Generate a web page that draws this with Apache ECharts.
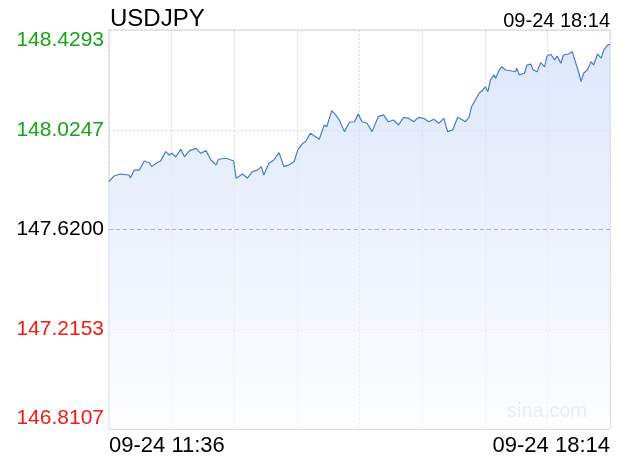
<!DOCTYPE html>
<html>
<head>
<meta charset="utf-8">
<script src="https://cdn.jsdelivr.net/npm/echarts@6/dist/echarts.min.js"></script>
<style>html,body{margin:0;padding:0;background:#fff}#c{width:620px;height:460px}</style>
</head>
<body>
<div id="c"></div>
<script>
var symbol = 'USDJPY';
var dateStr = '09-24';
var startTime = '11:36';
var endTime = '18:14';
var prevClose = 147.62;
var yTickLabels = ['146.8107', '147.2153', '147.6200', '148.0247', '148.4293'];

var times = ['11:36','11:40','11:45','11:52','11:53','11:56','12:00','12:04','12:08','12:10','12:14','12:17','12:21','12:24','12:26','12:29','12:33','12:36','12:40','12:45','12:49','12:53','12:57','13:01','13:03','13:09','13:13','13:15','13:17','13:22','13:26','13:30','13:34','13:37','13:39','13:43','13:47','13:51','13:55','13:59','14:03','14:06','14:10','14:12','14:16','14:23','14:27','14:29','14:33','14:36','14:39','14:43','14:47','14:51','14:54','14:57','15:01','15:05','15:10','15:14','15:18','15:22','15:26','15:30','15:34','15:38','15:42','15:46','15:50','15:54','15:58','16:02','16:05','16:09','16:13','16:17','16:19','16:22','16:24','16:27','16:30','16:33','16:35','16:37','16:39','16:42','16:43','16:46','16:48','16:51','16:55','16:59','17:00','17:02','17:06','17:08','17:11','17:13','17:16','17:19','17:22','17:24','17:27','17:30','17:32','17:35','17:37','17:41','17:44','17:46','17:49','17:51','17:53','17:56','17:59','18:01','18:04','18:07','18:09','18:12','18:14'];
var prices = [147.814,147.837,147.845,147.841,147.829,147.861,147.861,147.898,147.891,147.875,147.891,147.898,147.936,147.922,147.930,147.914,147.945,147.915,147.940,147.949,147.929,147.940,147.902,147.882,147.905,147.909,147.902,147.899,147.828,147.845,147.828,147.855,147.861,147.875,147.841,147.889,147.902,147.932,147.875,147.882,147.895,147.943,147.970,147.976,148.010,147.986,148.044,148.037,148.102,148.085,148.064,148.017,148.055,148.057,148.088,148.057,148.051,148.017,148.078,148.085,148.057,148.064,148.044,148.075,148.071,148.057,148.075,148.071,148.057,148.067,148.051,148.071,148.017,148.024,148.075,148.064,148.057,148.075,148.118,148.145,148.173,148.186,148.199,148.179,148.227,148.247,148.233,148.267,148.280,148.267,148.264,148.260,148.274,148.247,148.254,148.287,148.291,148.267,148.260,148.297,148.280,148.324,148.331,148.308,148.324,148.294,148.328,148.332,148.341,148.308,148.260,148.220,148.254,148.267,148.301,148.287,148.332,148.315,148.348,148.368,148.371];

function toMin(t){var p=t.split(':');return (+p[0])*60+(+p[1]);}
var t0 = toMin(startTime), t1 = toMin(endTime);
var span = t1 - t0;
var yMin = parseFloat(yTickLabels[0]) - prevClose;
var yMax = parseFloat(yTickLabels[yTickLabels.length-1]) - prevClose;
var yStep = (yMax - yMin) / (yTickLabels.length - 1);
var data = times.map(function(t,i){return [toMin(t)-t0, prices[i]-prevClose];});

var FONT = 'Liberation Sans, Arial, sans-serif';
var chart = echarts.init(document.getElementById('c'));
chart.setOption({
  animation: false,
  backgroundColor: '#fff',
  grid: {left: 109, right: 10, top: 30, bottom: 31, show: true, borderColor: '#d0d0d0', borderWidth: 1, containLabel: false},
  title: [
    {text: symbol, left: 105, top: 2, textStyle: {fontFamily: FONT, fontSize: 24, fontWeight: 'normal', color: '#000'}},
    {text: dateStr + ' ' + endTime, right: 5, top: 6, textStyle: {fontFamily: FONT, fontSize: 20, fontWeight: 'normal', color: '#000'}}
  ],
  graphic: [
    {type: 'text', right: 33, top: 401, style: {text: 'sina.com', fill: '#cccccc', font: '20px ' + FONT}}
  ],
  xAxis: {
    type: 'value', min: 0, max: span, interval: span/8,
    axisLine: {show: false}, axisTick: {show: false},
    splitLine: {show: true, lineStyle: {color: '#dadada', type: [2, 2], width: 1}},
    axisLabel: {
      show: true, margin: 6, color: '#000', fontFamily: FONT, fontSize: 22,
      alignMinLabel: 'left', alignMaxLabel: 'right',
      formatter: function(v){
        if (Math.abs(v) < 1e-6) return dateStr + ' ' + startTime;
        if (Math.abs(v - span) < 1e-6) return dateStr + ' ' + endTime;
        return '';
      }
    }
  },
  yAxis: {
    type: 'value', min: yMin, max: yMax, interval: yStep,
    axisLine: {show: false}, axisTick: {show: false},
    splitLine: {show: true, lineStyle: {color: '#dadada', type: [2, 2], width: 1}},
    axisLabel: {
      margin: 5, fontFamily: FONT, fontSize: 21,
      verticalAlignMinLabel: 'bottom', verticalAlignMaxLabel: 'top',
      formatter: function(v){
        var idx = Math.round((v - yMin) / yStep);
        var txt = yTickLabels[idx];
        if (idx > 2) return '{g|' + txt + '}';
        if (idx < 2) return '{r|' + txt + '}';
        return '{k|' + txt + '}';
      },
      rich: {
        g: {color: '#14a514', fontFamily: FONT, fontSize: 21},
        r: {color: '#f21a12', fontFamily: FONT, fontSize: 21},
        k: {color: '#000', fontFamily: FONT, fontSize: 21}
      }
    }
  },
  series: [{
    type: 'line', data: data, symbol: 'none', smooth: false,
    lineStyle: {color: '#4a7ad0', width: 1.2},
    areaStyle: {origin: 'start', color: {type: 'linear', x: 0, y: 0, x2: 0, y2: 1, colorStops: [{offset: 0, color: '#cfdef8'}, {offset: 1, color: '#fcfdff'}]}},
    markLine: {silent: true, symbol: 'none', label: {show: false}, lineStyle: {color: '#b0b0c0', type: [4, 3], width: 1}, data: [{yAxis: 0}]}
  }]
});
</script>
</body>
</html>
